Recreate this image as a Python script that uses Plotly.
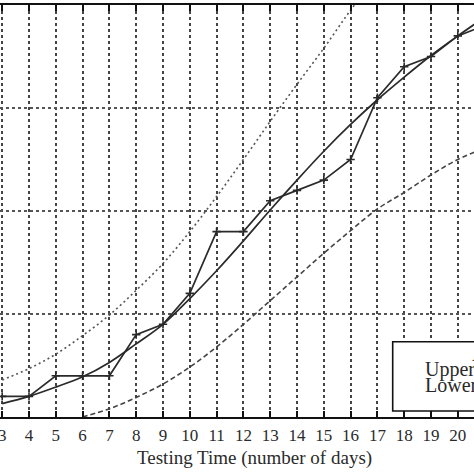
import plotly.graph_objects as go

# ---- data ----
days = list(range(3, 22))
actual = [2.0, 2.0, 4.0, 4.0, 4.0, 8.0, 9.0, 12.0, 18.0, 18.0, 21.0, 22.0, 23.0, 25.0, 31.0, 34.0, 35.0, 37.0, 38.0]
fitted = [1.3, 2.0, 2.9, 3.9, 5.3, 7.1, 9.0, 11.5, 14.2, 17.1, 20.1, 23.0, 25.8, 28.4, 30.8, 33.0, 35.1, 37.0, 38.8]
upper_days = list(range(3, 18))
upper = [3.6, 4.7, 6.1, 7.9, 9.9, 12.3, 14.9, 18.0, 21.4, 25.0, 28.7, 32.3, 35.8, 39.5, 42.8]
lower_days = list(range(6, 22))
lower = [0.0, 0.8, 1.9, 3.2, 4.85, 6.8, 9.0, 11.3, 13.6, 15.9, 18.1, 20.2, 21.8, 23.5, 25.0, 26.1]
x_ticks = list(range(3, 21))
legend_labels = ["Actual", "Upper Limit", "Lower Limit"]

ink = "#2a2a2a"
serif = "Liberation Serif, Times New Roman, serif"

fig = go.Figure()
fig.add_trace(go.Scatter(x=upper_days, y=upper, mode="lines", name=legend_labels[1],
                         line=dict(color="#555555", width=1.6, dash="2px,3px", shape="spline")))
fig.add_trace(go.Scatter(x=lower_days, y=lower, mode="lines", name=legend_labels[2],
                         line=dict(color="#444444", width=1.6, dash="5px,3px", shape="spline")))
fig.add_trace(go.Scatter(x=days, y=fitted, mode="lines", name="Fitted",
                         line=dict(color=ink, width=1.7, shape="spline")))
fig.add_trace(go.Scatter(x=days, y=actual, mode="lines+markers", name=legend_labels[0],
                         line=dict(color=ink, width=1.7),
                         marker=dict(symbol="cross-thin", size=6, line=dict(color=ink, width=1.6))))

fig.update_layout(
    width=474, height=474,
    margin=dict(l=0, r=0, t=5, b=57, autoexpand=False),
    paper_bgcolor="white", plot_bgcolor="white",
    showlegend=False,
    font=dict(family=serif, color=ink),
)
fig.update_xaxes(
    range=[2.918, 20.604], tickmode="array", tickvals=x_ticks, ticktext=[str(v) for v in x_ticks],
    showgrid=True, gridcolor="#444444", gridwidth=1.5, griddash="dot",
    showline=True, linecolor="#111111", linewidth=2, mirror="ticks",
    ticks="inside", ticklen=6, tickwidth=1.5, tickcolor="#111111",
    tickfont=dict(family=serif, size=17, color=ink), ticklabelstandoff=2,
    ticklabeloverflow="allow", zeroline=False,
)
fig.update_yaxes(
    range=[0, 40], tickmode="linear", tick0=0, dtick=10,
    showgrid=True, gridcolor="#555555", gridwidth=1.5, griddash="dot",
    showticklabels=False, showline=False, zeroline=False, ticks="",
)

# x-axis title
fig.add_annotation(text="Testing Time (number of days)", xref="paper", yref="paper",
                   x=254 / 474, y=(417 - 458) / 412, xanchor="center", yanchor="middle",
                   showarrow=False, font=dict(family=serif, size=19, color=ink))

# legend box (gnuplot style, partly outside the view)
fig.add_shape(type="rect", xref="paper", yref="paper", x0=392.7 / 474, x1=1.25,
              y0=(417 - 411) / 412, y1=(417 - 341.7) / 412,
              line=dict(color="#111111", width=1.6), fillcolor="white", layer="above")
row_x = [469.5, 422.5, 422.5]
row_y = [354, 369.5, 385]
for lbl, xpx, ypx in zip(legend_labels, row_x, row_y):
    fig.add_annotation(text=lbl, xref="paper", yref="paper", x=xpx / 474, y=(417 - ypx) / 412,
                       xanchor="left", yanchor="middle", showarrow=False,
                       font=dict(family=serif, size=20, color=ink))

fig.write_html("out.html", config={"displayModeBar": False},
               post_script="document.body.style.margin='0';document.body.style.overflow='hidden';")
